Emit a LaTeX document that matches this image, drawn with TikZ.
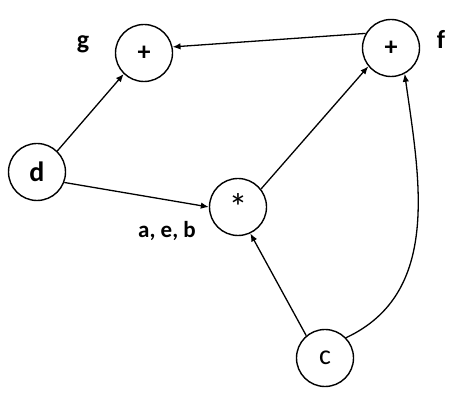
\documentclass[tikz,border=0pt]{standalone}
\usepackage{fontspec}
\setmainfont{Carlito}
\usetikzlibrary{arrows.meta, positioning}

\tikzset{
  opnode/.style={circle, draw, line width=1.4pt, minimum size=57pt, inner sep=0pt},
  varlabel/.style={font=\fontsize{26}{28}\selectfont\bfseries},
  edge/.style={-{Latex[length=8pt, width=6.5pt]}, line width=1.3pt}
}

\begin{document}
\begin{tikzpicture}[x=1pt, y=1pt]
\useasboundingbox (0,0) rectangle (463,406);

% Operation and input nodes
\node[opnode, font=\fontsize{26}{28}\selectfont\bfseries] (g) at (144,353) {+};
\node[opnode, font=\fontsize{26}{28}\selectfont\bfseries] (f) at (391,358) {+};
\node[opnode, font=\fontsize{28}{30}\selectfont\bfseries] (d) at (37,234) {d};
\node[opnode, font=\fontsize{38}{40}\selectfont] (mul) at (238,199) {\raisebox{-9pt}{*}};
\node[opnode, font=\fontsize{28}{30}\selectfont] (c) at (325,48) {c};

% Text
\node[varlabel] (glabel) at (83,362) {g};
\node[varlabel] (flabel) at (441,367) {f};
\node[font=\fontsize{23}{25}\selectfont\bfseries] (aeb) at (167,175) {a, e, b};

% Edges
\draw[edge] (f.150) -- (g.12);
\draw[edge] (d.46) -- (g.226);
\draw[edge] (d.-21) -- (mul.180);
\draw[edge] (mul.38) -- (f.219);
\draw[edge] (c.130) -- (mul.-65);
\draw[edge] (c.44) to[out=25, in=-82] (f.-62);
\end{tikzpicture}
\end{document}
